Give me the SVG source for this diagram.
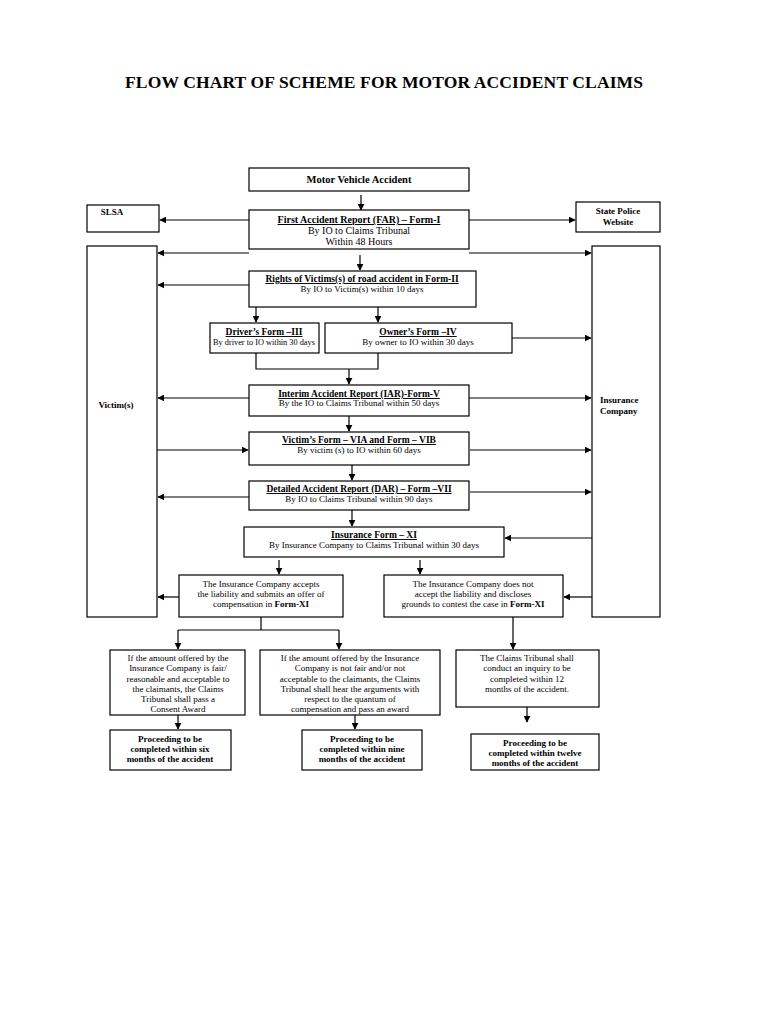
<svg xmlns="http://www.w3.org/2000/svg" width="768" height="1024" viewBox="0 0 768 1024">
<style>
text{font-family:"Liberation Serif","Times New Roman",serif;fill:#000;text-anchor:middle}
.t{font-size:17.5px;font-weight:bold}
.h{font-size:9.5px;font-weight:bold;text-decoration:underline}
.b{font-size:9px;font-weight:bold}
.n{font-size:9px}
.bx{fill:#fff;stroke:#000;stroke-width:1.2}
.c line,.c path{stroke:#000;stroke-width:1.2;fill:none}
</style>
<defs><marker id="a" viewBox="0 0 10 10" refX="9" refY="5" markerWidth="7" markerHeight="7" orient="auto" markerUnits="userSpaceOnUse"><path d="M0,0L10,5L0,10z" fill="#000"/></marker></defs>
<rect width="768" height="1024" fill="#fff"/>
<text class="t" x="384" y="88" textLength="518" lengthAdjust="spacing">FLOW CHART OF SCHEME FOR MOTOR ACCIDENT CLAIMS</text>
<g class="c" marker-end="url(#a)">
<line x1="361" y1="195" x2="361" y2="210" stroke-width="2"/>
<line x1="249" y1="220" x2="160" y2="220"/>
<line x1="469" y1="220" x2="575" y2="220"/>
<line x1="249" y1="253" x2="158" y2="253"/>
<line x1="469" y1="253" x2="591" y2="253"/>
<line x1="360" y1="255" x2="360" y2="270" stroke-width="2"/>
<line x1="249" y1="285" x2="158" y2="285"/>
<line x1="256" y1="307" x2="256" y2="322" stroke-width="1.6"/>
<line x1="378" y1="307" x2="378" y2="322" stroke-width="1.6"/>
<line x1="512" y1="338" x2="591" y2="338"/>
<path d="M256 353V369H378V353" marker-end="none"/>
<line x1="349" y1="369" x2="349" y2="384"/>
<line x1="249" y1="398" x2="158" y2="398"/>
<line x1="469" y1="398" x2="591" y2="398"/>
<line x1="349" y1="416" x2="349" y2="431"/>
<line x1="157" y1="450" x2="248" y2="450"/>
<line x1="470" y1="450" x2="591" y2="450"/>
<line x1="352" y1="465" x2="352" y2="480" stroke-width="1.6"/>
<line x1="249" y1="497" x2="158" y2="497"/>
<line x1="470" y1="492" x2="591" y2="492"/>
<line x1="352" y1="510" x2="352" y2="526" stroke-width="1.6"/>
<line x1="592" y1="538" x2="505" y2="538" stroke-width="1.8"/>
<line x1="279" y1="560" x2="279" y2="574"/>
<line x1="420" y1="560" x2="420" y2="574"/>
<line x1="179" y1="597" x2="158" y2="597"/>
<line x1="592" y1="597" x2="564" y2="597"/>
<path d="M261 617V630H178M261 630H339" marker-end="none"/>
<line x1="178" y1="630" x2="178" y2="649"/>
<line x1="339" y1="630" x2="339" y2="649"/>
<line x1="513" y1="617" x2="513" y2="649"/>
<line x1="178" y1="715" x2="178" y2="729"/>
<line x1="355" y1="715" x2="355" y2="729"/>
<line x1="527" y1="707" x2="527" y2="722" stroke-width="2"/>
</g>
<g id="mva"><rect class="bx" x="249" y="168" width="220" height="23"/><text class="b" style="font-size:10.5px" x="359" y="183">Motor Vehicle Accident</text></g>
<g id="slsa"><rect class="bx" x="87" y="205" width="72" height="27"/><text class="b" x="112" y="215">SLSA</text></g>
<g id="far"><rect class="bx" x="249" y="210" width="220" height="39"/><text class="h" style="font-size:10px" x="359" y="223">First Accident Report (FAR) – Form-I</text><text class="n" style="font-size:10px" x="359" y="234">By IO to Claims Tribunal</text><text class="n" style="font-size:10px" x="359" y="245">Within 48 Hours</text></g>
<g id="spw"><rect class="bx" x="576" y="202" width="84" height="30"/><text class="b" x="618" y="214">State Police</text><text class="b" x="618" y="225">Website</text></g>
<g id="victims"><rect class="bx" x="87" y="246" width="70" height="371"/><text class="b" x="116" y="408">Victim(s)</text></g>
<g id="ins"><rect class="bx" x="592" y="246" width="68" height="371"/><text class="b" style="text-anchor:start" x="600" y="403">Insurance</text><text class="b" style="text-anchor:start" x="600" y="414">Company</text></g>
<g id="rights"><rect class="bx" x="249" y="271" width="227" height="36"/><text class="h" x="362" y="282">Rights of Victims(s) of road accident in Form-II</text><text class="n" x="362" y="292">By IO to Victim(s) within 10 days</text></g>
<g id="driver"><rect class="bx" x="210" y="323" width="109" height="30"/><text class="h" x="264" y="335">Driver’s Form –III</text><text class="n" style="font-size:8.3px" x="264" y="345">By driver to IO within 30 days</text></g>
<g id="owner"><rect class="bx" x="325" y="323" width="187" height="30"/><text class="h" x="418" y="335">Owner’s Form –IV</text><text class="n" x="418" y="345">By owner to IO within 30 days</text></g>
<g id="iar"><rect class="bx" x="249" y="385" width="220" height="31"/><text class="h" x="359" y="397">Interim Accident Report (IAR)-Form-V</text><text class="n" x="359" y="406">By the IO to Claims Tribunal within 50 days</text></g>
<g id="vf"><rect class="bx" x="249" y="432" width="220" height="33"/><text class="h" x="359" y="443">Victim’s Form – VIA and Form – VIB</text><text class="n" x="359" y="453">By victim (s) to IO within 60 days</text></g>
<g id="dar"><rect class="bx" x="249" y="481" width="220" height="29"/><text class="h" x="359" y="492">Detailed Accident Report (DAR) – Form –VII</text><text class="n" x="359" y="502">By IO to Claims Tribunal within 90 days</text></g>
<g id="insf"><rect class="bx" x="244" y="527" width="260" height="30"/><text class="h" x="374" y="538">Insurance Form – XI</text><text class="n" x="374" y="548">By Insurance Company to Claims Tribunal within 30 days</text></g>
<g id="acc"><rect class="bx" x="179" y="575" width="164" height="42"/><text class="n" x="261" y="587">The Insurance Company accepts</text><text class="n" x="261" y="597">the liability and submits an offer of</text><text class="n" x="261" y="607">compensation in <tspan font-weight="bold">Form-XI</tspan></text></g>
<g id="notacc"><rect class="bx" x="384" y="575" width="179" height="42"/><text class="n" x="473" y="587">The Insurance Company does not</text><text class="n" x="473" y="597">accept the liability and discloses</text><text class="n" x="473" y="607">grounds to contest the case in <tspan font-weight="bold">Form-XI</tspan></text></g>
<g id="fair"><rect class="bx" x="110" y="650" width="135" height="65"/><text class="n" x="178" y="661">If the amount offered by the</text><text class="n" x="178" y="671">Insurance Company is fair/</text><text class="n" x="178" y="682">reasonable and acceptable to</text><text class="n" x="178" y="692">the claimants, the Claims</text><text class="n" x="178" y="702">Tribunal shall pass a</text><text class="n" x="178" y="712">Consent Award</text></g>
<g id="notfair"><rect class="bx" x="260" y="650" width="180" height="65"/><text class="n" x="350" y="661">If the amount offered by the Insurance</text><text class="n" x="350" y="671">Company is not fair and/or not</text><text class="n" x="350" y="682">acceptable to the claimants, the Claims</text><text class="n" x="350" y="692">Tribunal shall hear the arguments with</text><text class="n" x="350" y="702">respect to the quantum of</text><text class="n" x="350" y="712">compensation and pass an award</text></g>
<g id="inq"><rect class="bx" x="456" y="650" width="143" height="57"/><text class="n" x="527" y="661">The Claims Tribunal shall</text><text class="n" x="527" y="671">conduct an inquiry to be</text><text class="n" x="527" y="682">completed within 12</text><text class="n" x="527" y="692">months of the accident.</text></g>
<g id="six"><rect class="bx" x="110" y="730" width="121" height="40"/><text class="b" x="170" y="742">Proceeding to be</text><text class="b" x="170" y="752">completed within six</text><text class="b" x="170" y="762">months of the accident</text></g>
<g id="nine"><rect class="bx" x="302" y="730" width="120" height="40"/><text class="b" x="362" y="742">Proceeding to be</text><text class="b" x="362" y="752">completed within nine</text><text class="b" x="362" y="762">months of the accident</text></g>
<g id="twelve"><rect class="bx" x="471" y="734" width="128" height="36"/><text class="b" x="535" y="746">Proceeding to be</text><text class="b" x="535" y="756">completed within twelve</text><text class="b" x="535" y="766">months of the accident</text></g>
</svg>
